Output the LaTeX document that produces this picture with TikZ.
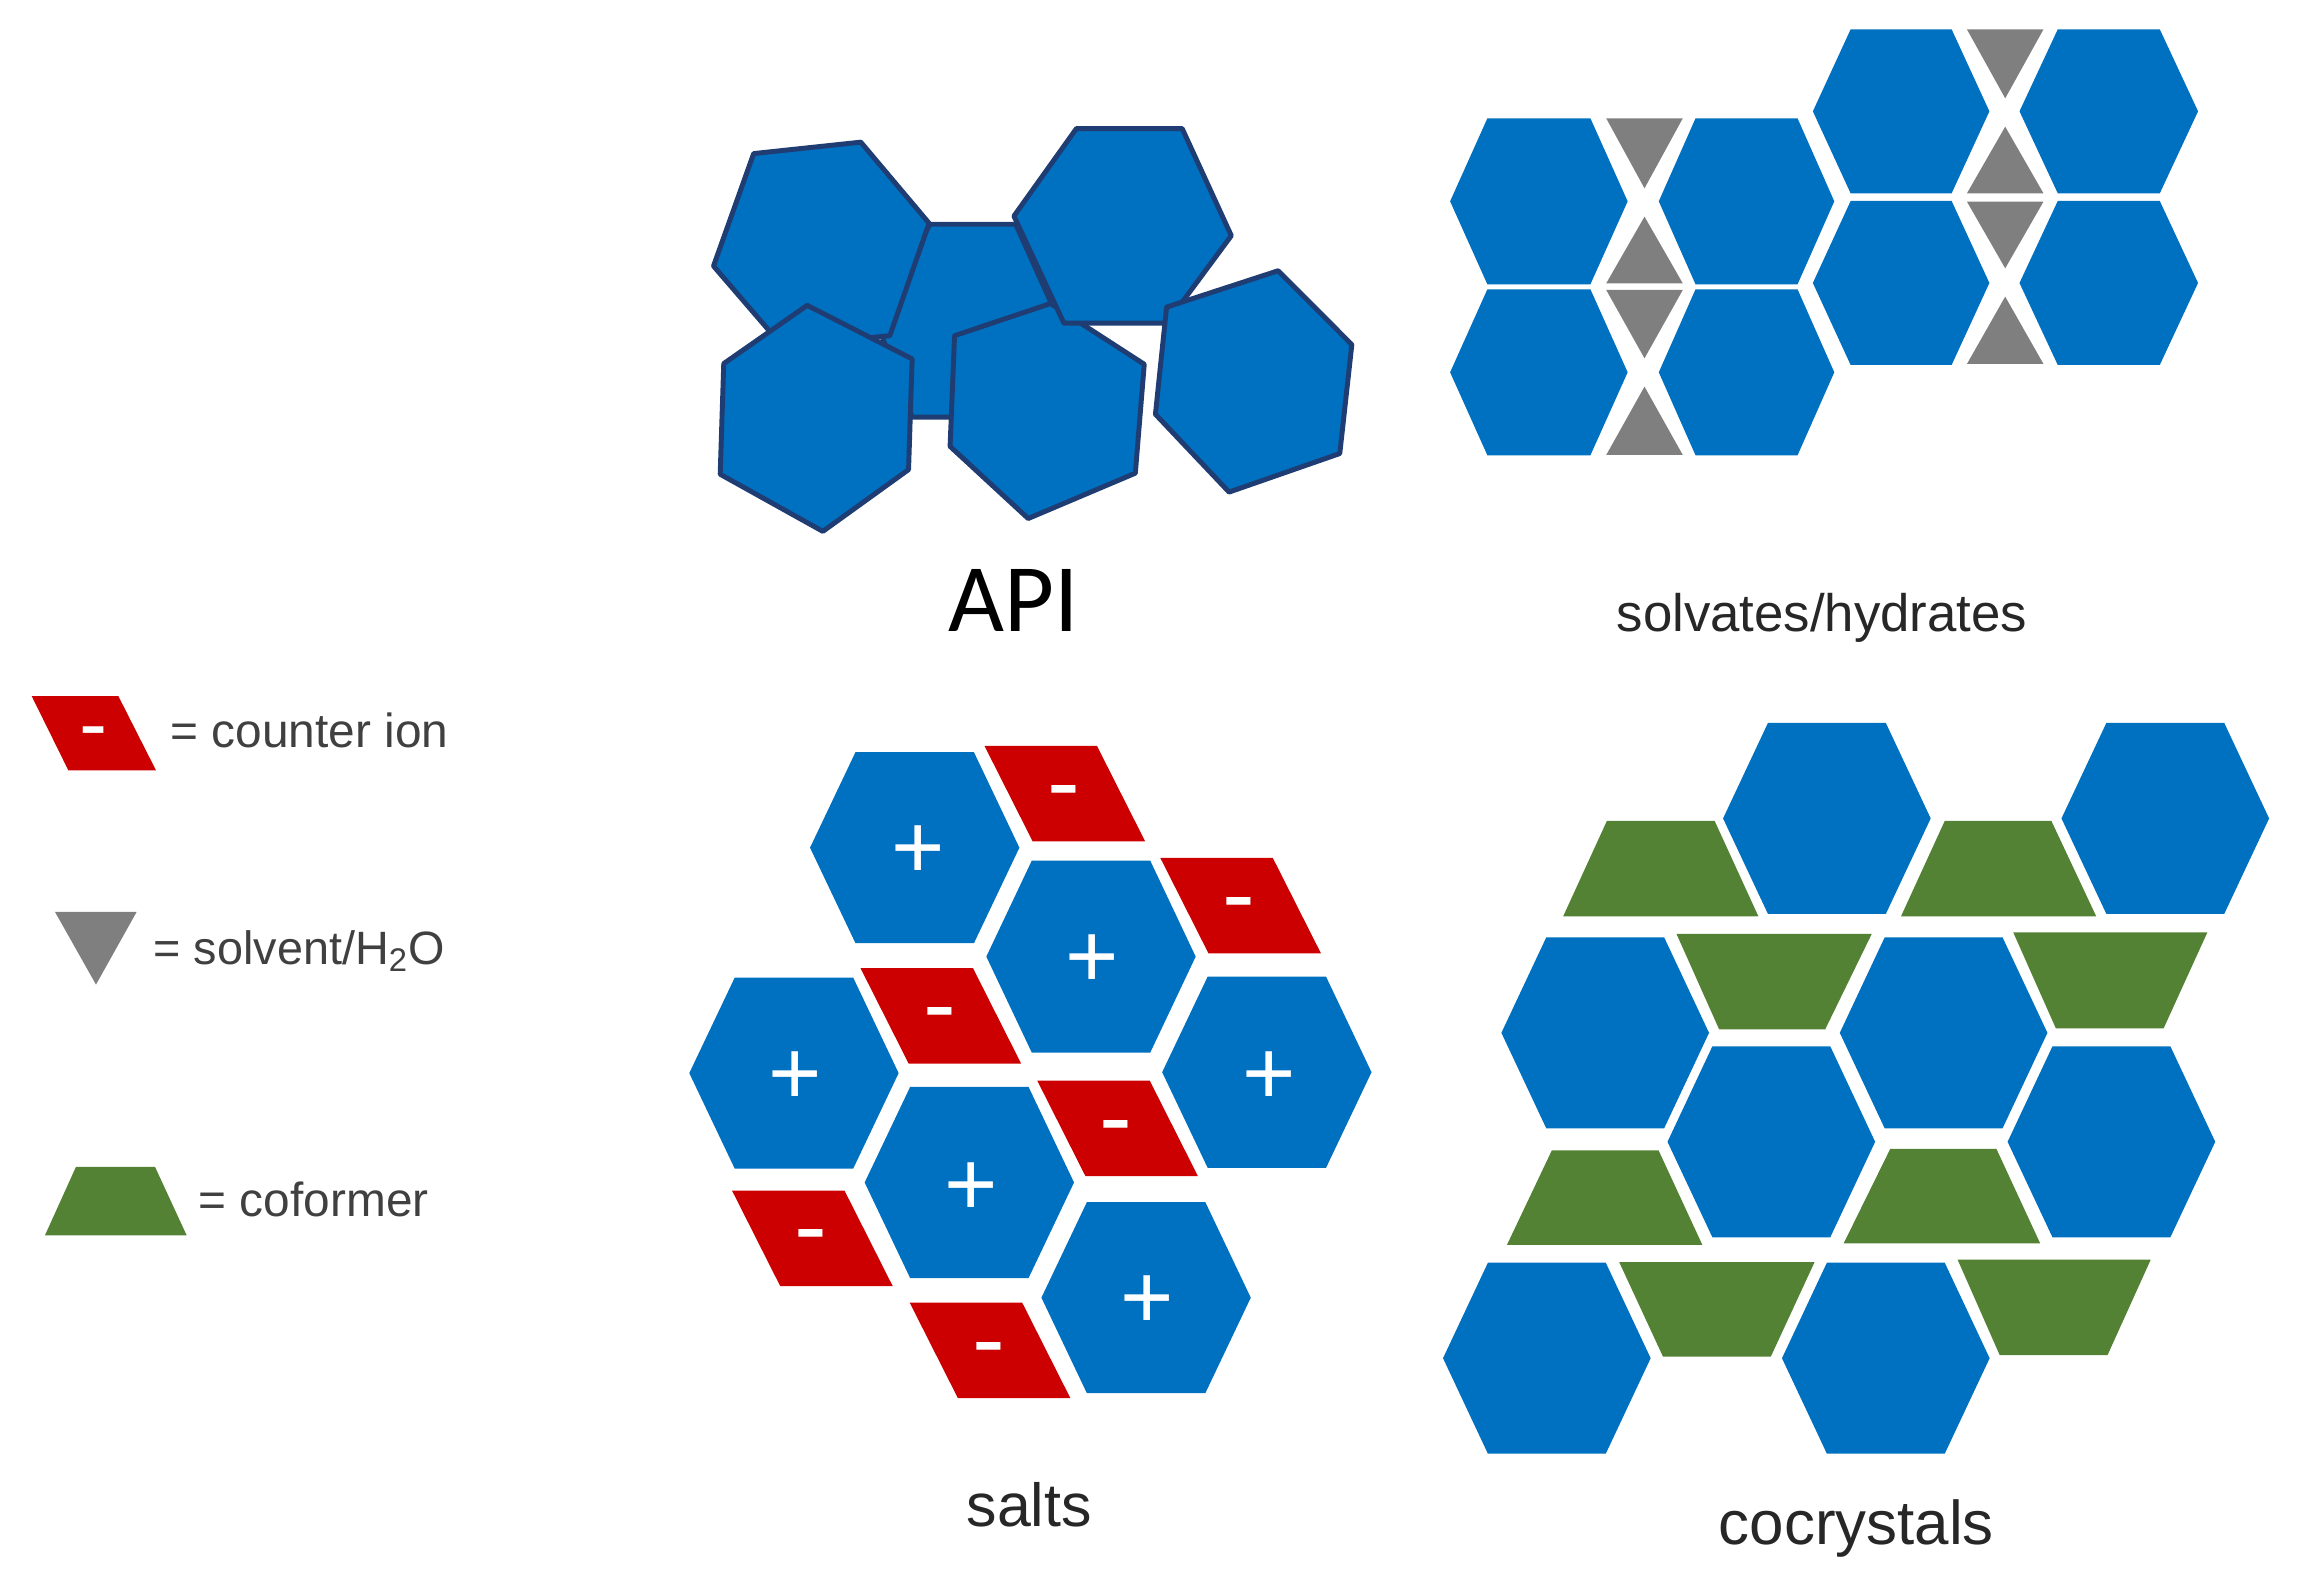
\documentclass[tikz,border=0pt]{standalone}
\usepackage{fontspec}
\setmainfont{Liberation Sans}
\newfontfamily\calib{Carlito}
\definecolor{apiblue}{HTML}{0070C0}
\definecolor{apiline}{HTML}{1F3D73}
\definecolor{ionred}{HTML}{CC0000}
\definecolor{solvgray}{HTML}{7F7F7F}
\definecolor{cofgreen}{HTML}{548235}
\definecolor{legtext}{HTML}{404040}
\tikzset{
  lump/.style={fill=apiblue,draw=apiline,line width=1.4pt,line join=round},
  cap text/.style={anchor=base west,inner sep=0pt,text=black},
  leg text/.style={anchor=base west,inner sep=0pt,text=legtext,font=\fontsize{13.6}{16}\selectfont},
  charge/.style={inner sep=0pt,text=white,font=\fontsize{26}{26}\selectfont}
}
% centre x, centre y, half width, half top edge, half height
\newcommand{\hexshape}[5]{\fill[apiblue] ({#1-#4},{#2-#5}) -- ({#1+#4},{#2-#5}) -- ({#1+#3},#2) -- ({#1+#4},{#2+#5}) -- ({#1-#4},{#2+#5}) -- ({#1-#3},#2) -- cycle;}
\newcommand{\polyfour}[9]{\fill[#1] (#2,#3) -- (#4,#5) -- (#6,#7) -- (#8,#9) -- cycle;}
\newcommand{\tri}[7]{\fill[#1] (#2,#3) -- (#4,#5) -- (#6,#7) -- cycle;}
\newcommand{\ionshape}[3]{\fill[ionred] (#1,#2) -- ({#1+245},#2) -- ({#1+350},{#2+214}) -- ({#1+105},{#2+214}) -- cycle;
  \node[charge,font=\fontsize{28}{28}\selectfont] (minus#3) at ({#1+172},{#2+122}) {-};}
\begin{document}
\begin{tikzpicture}[x=0.01cm,y=-0.01cm]
\useasboundingbox (0,0) rectangle (2312,1584);
% API
\begin{scope}[shift={(680,100)},xscale=0.4464,yscale=0.3571]
\draw[lump] (560,348) -- (752,348) -- (850,620) -- (752,888) -- (520,888) -- (440,620) -- cycle;
\draw[lump] (165,150) -- (405,118) -- (558,345) -- (470,660) -- (230,690) -- (75,465) -- cycle;
\draw[lump] (830,570) -- (1040,740) -- (1020,1045) -- (780,1172) -- (605,970) -- (615,660) -- cycle;
\draw[lump] (888,80) -- (1125,80) -- (1235,380) -- (1090,625) -- (860,625) -- (748,325) -- cycle;
\draw[lump] (1340,478) -- (1505,685) -- (1478,990) -- (1230,1098) -- (1065,880) -- (1090,580) -- cycle;
\draw[lump] (285,575) -- (520,725) -- (512,1035) -- (320,1208) -- (90,1048) -- (98,738) -- cycle;
\end{scope}
% solvates / hydrates
\begin{scope}[shift={(1420,0)},xscale=0.5102,yscale=0.3333]
\hexshape{233}{604}{174}{101}{249}
\hexshape{640}{604}{172}{100}{249}
\hexshape{233}{1117}{174}{101}{249}
\hexshape{640}{1117}{172}{100}{249}
\hexshape{943}{334}{173}{99}{246}
\hexshape{1350}{334}{175}{100}{246}
\hexshape{943}{849}{173}{99}{246}
\hexshape{1350}{849}{175}{100}{246}
\tri{solvgray}{365}{355}{515}{355}{440}{565}
\tri{solvgray}{440}{650}{515}{850}{365}{850}
\tri{solvgray}{365}{870}{515}{870}{440}{1075}
\tri{solvgray}{440}{1160}{515}{1365}{365}{1365}
\tri{solvgray}{1072}{88}{1222}{88}{1147}{295}
\tri{solvgray}{1147}{380}{1222}{580}{1072}{580}
\tri{solvgray}{1072}{605}{1222}{605}{1147}{805}
\tri{solvgray}{1147}{890}{1222}{1092}{1072}{1092}
\end{scope}
% salts
\begin{scope}[shift={(670,720)},xscale=0.4591,yscale=0.4464]
\hexshape{533}{286}{228}{129}{214}
\hexshape{917}{530}{228}{129}{215}
\hexshape{270}{791}{228}{129}{214}
\hexshape{1300}{789}{228}{129}{214}
\hexshape{652}{1036}{228}{129}{214}
\hexshape{1037}{1294}{228}{129}{214}
\node[charge] (plus1) at (540,296) {+};
\node[charge] (plus2) at (920,540) {+};
\node[charge] (plus3) at (273,803) {+};
\node[charge] (plus4) at (1305,803) {+};
\node[charge] (plus5) at (655,1050) {+};
\node[charge] (plus6) at (1040,1303) {+};
\ionshape{685}{58}{1}
\ionshape{1068}{309}{2}
\ionshape{415}{556}{3}
\ionshape{800}{808}{4}
\ionshape{135}{1054}{5}
\ionshape{522}{1305}{6}
\end{scope}
% cocrystals
\begin{scope}[shift={(1420,700)},xscale=0.5612,yscale=0.4975]
\hexshape{725}{238}{185}{105}{192}
\hexshape{1328}{238}{185}{105}{192}
\hexshape{330}{669}{185}{105}{192}
\hexshape{933}{669}{185}{105}{192}
\hexshape{626}{888}{185}{105}{192}
\hexshape{1232}{888}{185}{105}{192}
\hexshape{226}{1323}{185}{105}{192}
\hexshape{830}{1323}{185}{105}{192}
\polyfour{cofgreen}{333}{243}{525}{243}{603}{435}{255}{435}
\polyfour{cofgreen}{935}{243}{1125}{243}{1205}{435}{857}{435}
\polyfour{cofgreen}{235}{905}{425}{905}{503}{1095}{155}{1095}
\polyfour{cofgreen}{838}{902}{1027}{902}{1105}{1092}{755}{1092}
\polyfour{cofgreen}{457}{470}{805}{470}{722}{662}{533}{662}
\polyfour{cofgreen}{1057}{467}{1403}{467}{1325}{660}{1133}{660}
\polyfour{cofgreen}{355}{1130}{703}{1130}{625}{1320}{433}{1320}
\polyfour{cofgreen}{958}{1125}{1302}{1125}{1225}{1317}{1033}{1317}
\end{scope}
% legend
\begin{scope}[shift={(0,670)},xscale=0.3333,yscale=0.3827]
\polyfour{ionred}{95}{68}{355}{68}{468}{262}{205}{262}
\node[charge,font=\fontsize{24}{24}\selectfont] (legminus) at (280,183) {-};
\tri{solvgray}{165}{632}{410}{632}{288}{822}
\polyfour{cofgreen}{228}{1298}{465}{1298}{560}{1477}{135}{1477}
\end{scope}
\node[leg text] (legion) at (170,747) {= counter ion};
\node[leg text,font=\fontsize{13.3}{16}\selectfont] (legsolv) at (153,964) {= solvent/H\textsubscript{2}O};
\node[leg text] (legcof) at (198,1216) {= coformer};
% captions
\node[cap text,font=\calib\fontsize{27.5}{32}\selectfont] (apilabel) at (948,631) {API};
\node[cap text,text=legtext!60!black,font=\fontsize{15}{18}\selectfont] (solvlabel) at (1616,631) {solvates/hydrates};
\node[cap text,text=legtext!60!black,font=\fontsize{17.3}{20}\selectfont] (saltlabel) at (966,1526) {salts};
\node[cap text,text=legtext!60!black,font=\fontsize{17.6}{20}\selectfont] (cocrlabel) at (1718,1544) {cocrystals};
\end{tikzpicture}
\end{document}
